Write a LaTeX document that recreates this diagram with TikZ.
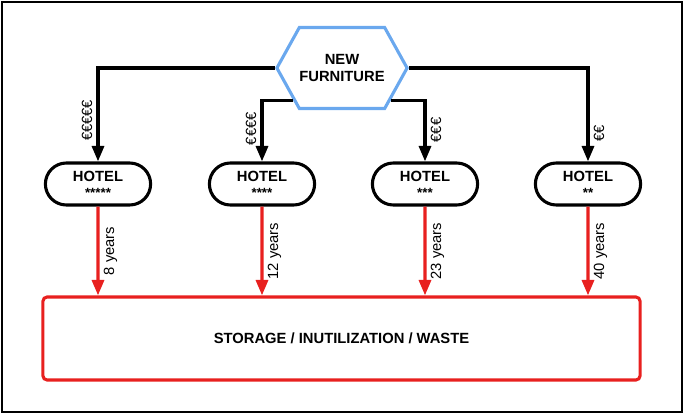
\documentclass[tikz,border=0pt]{standalone}
\usepackage{fontspec}
\setmainfont{Liberation Sans}
\usetikzlibrary{positioning,arrows.meta,shapes.symbols,shapes.misc}
\definecolor{hexblue}{HTML}{6AA8EE}
\definecolor{wastered}{HTML}{E8201F}

\begin{document}
\begin{tikzpicture}[x=0.025cm, y=-0.025cm,
    hotel/.style={rounded rectangle, draw, line width=2.2pt, minimum width=2.7cm, minimum height=1.05cm, align=center, inner sep=1pt, font=\fontsize{10.5}{11.5}\selectfont\bfseries},
    buy/.style={line width=2.3pt, -{Triangle[length=11pt,width=8.5pt]}},
    life/.style={buy, draw=wastered, fill=wastered},
    cost/.style={rotate=90, inner sep=3pt, font=\fontsize{10.5}{12}\selectfont}]
    \useasboundingbox (0,0) rectangle (685,415);
    % Frame
    \draw[line width=1.4pt] (2,2) rectangle (682,412);

    % Define node positions (left to right)
    \node[signal, signal to=west and east, signal pointer angle=122, draw=hexblue, line width=2.2pt, minimum width=2.95cm, minimum height=2.025cm, inner sep=0pt, align=center, font=\fontsize{10.5}{12.5}\selectfont\bfseries] (Furniture) at (342,68) {NEW\\FURNITURE};
    \node[hotel] (Hotel5) at (98,184) {HOTEL\\{\fontsize{9.5}{9}\selectfont *****}};
    \node[hotel] (Hotel4) at (262,184) {HOTEL\\{\fontsize{9.5}{9}\selectfont ****}};
    \node[hotel] (Hotel3) at (425,184) {HOTEL\\{\fontsize{9.5}{9}\selectfont ***}};
    \node[hotel] (Hotel2) at (588,184) {HOTEL\\{\fontsize{9.5}{9}\selectfont **}};
    \node[draw=wastered, line width=2.2pt, rounded corners=3pt, minimum width=14.925cm, minimum height=2.075cm, font=\fontsize{10.5}{12}\selectfont\bfseries] (Storage) at (341.5,338.5) {STORAGE / INUTILIZATION / WASTE};

    % Draw purchase arrows
    \draw[buy] (Furniture.west) -| (Hotel5) node[cost, pos=0.78, anchor=south] {€€€€€};
    \draw[buy] (Furniture.214) -| (Hotel4) node[cost, pos=0.73, anchor=south] {€€€€};
    \draw[buy] (Furniture.326) -| (Hotel3) node[cost, pos=0.74, anchor=north] {€€€};
    \draw[buy] (Furniture.east) -| (Hotel2) node[cost, pos=0.85, anchor=north] {€€};

    % Draw lifetime arrows
    \draw[life] (Hotel5) -- (Hotel5 |- Storage.north) node[cost, midway, anchor=north] {8 years};
    \draw[life] (Hotel4) -- (Hotel4 |- Storage.north) node[cost, midway, anchor=north] {12 years};
    \draw[life] (Hotel3) -- (Hotel3 |- Storage.north) node[cost, midway, anchor=north] {23 years};
    \draw[life] (Hotel2) -- (Hotel2 |- Storage.north) node[cost, midway, anchor=north] {40 years};
\end{tikzpicture}
\end{document}
